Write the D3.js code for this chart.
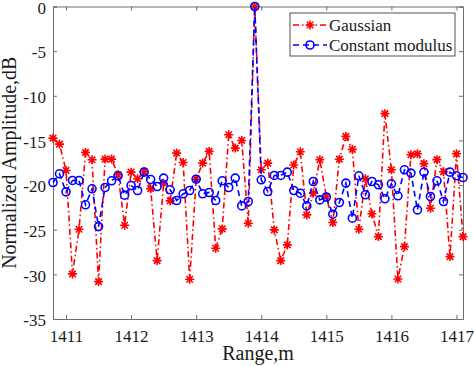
<!DOCTYPE html>
<head>
  <style>
    body {
      margin: 0;
      background: #ffffff;
    }
    text {
      font-family: "Liberation Serif", "Times New Roman", serif;
      fill: #1a1a1a;
    }
  </style>
  <script src="https://d3js.org/d3.v7.min.js"></script>
  <title></title>
</head>
<body>
<div class="home"></div>
</body>
<script>
    // range samples (m)
    const range = [
        1410.8, 1410.9, 1411.0, 1411.1, 1411.2, 1411.3, 1411.4, 1411.5, 1411.6, 1411.7,
        1411.8, 1411.9, 1412.0, 1412.1, 1412.2, 1412.3, 1412.4, 1412.5, 1412.6, 1412.7,
        1412.8, 1412.9, 1413.0, 1413.1, 1413.2, 1413.3, 1413.4, 1413.5, 1413.6, 1413.7,
        1413.8, 1413.9, 1414.0, 1414.1, 1414.2, 1414.3, 1414.4, 1414.5, 1414.6, 1414.7,
        1414.8, 1414.9, 1415.0, 1415.1, 1415.2, 1415.3, 1415.4, 1415.5, 1415.6, 1415.7,
        1415.8, 1415.9, 1416.0, 1416.1, 1416.2, 1416.3, 1416.4, 1416.5, 1416.6, 1416.7,
        1416.8, 1416.9, 1417.0, 1417.1
    ];

    const gaussian = [
        -14.74, -15.41, -18.36, -29.95, -24.95, -16.34, -17.17, -30.81, -17.09, -17.09,
        -18.85, -24.5, -18.55, -19.3, -18.48, -20.4, -28.46, -19.8, -21.77, -16.42,
        -17.47, -30.55, -19.34, -17.54, -16.23, -27.08, -24.91, -14.36, -15.86, -15.0,
        -24.27, 0, -18.29, -17.54, -25.02, -28.46, -26.7, -17.75, -16.27, -23.34,
        -20.9, -17.17, -21.28, -24.2, -17.1, -14.55, -16.0, -24.95, -19.3, -23.22,
        -25.77, -12.0, -18.29, -30.52, -26.89, -16.6, -16.5, -17.6, -22.6, -17.15,
        -18.5, -28.01, -16.5, -25.77
    ];

    const constantModulus = [
        -19.71, -18.74, -20.76, -19.48, -19.48, -22.21, -20.42, -24.65, -20.27, -19.52,
        -18.96, -21.13, -20.05, -20.61, -18.55, -19.37, -20.16, -19.22, -20.53, -21.73,
        -20.98, -20.61, -19.34, -20.98, -20.83, -21.73, -19.52, -20.27, -19.22, -22.33,
        -21.84, 0, -19.41, -20.72, -18.92, -18.92, -18.55, -20.61, -20.91, -22.33,
        -19.6, -21.66, -21.35, -23.26, -21.95, -19.78, -23.71, -18.96, -21.09, -19.6,
        -19.97, -21.54, -19.86, -21.2, -18.29, -18.66, -22.78, -18.55, -21.28, -19.52,
        -21.84, -18.55, -18.96, -19.15
    ];

    const xTicks = [1411, 1412, 1413, 1414, 1415, 1416, 1417];
    const yTicks = [0, -5, -10, -15, -20, -25, -30, -35];
    const seriesNames = ["Gaussian", "Constant modulus"];

    const width = 474;
    const height = 366;
    const margin = {top: 6.5, right: 11, bottom: 47, left: 53};
    const innerW = width - margin.left - margin.right;
    const innerH = height - margin.top - margin.bottom;

    const svg = d3.select(".home").append("svg")
        .attr("width", width)
        .attr("height", height);

    const x = d3.scaleLinear().domain([1410.8, 1417.1]).range([0, innerW]);
    const y = d3.scaleLinear().domain([-35, 0]).range([innerH, 0]);

    const g = svg.append("g")
        .attr("transform", `translate(${margin.left},${margin.top})`);

    const axisColor = "#6e6e6e";
    const tickLen = 4;

    // bottom / left axes with labels, ticks pointing inwards
    const xAxis = g.append("g")
        .attr("transform", `translate(0,${innerH})`)
        .call(d3.axisBottom(x).tickValues(xTicks).tickSize(-tickLen).tickPadding(8).tickFormat(d3.format("d")));
    const yAxis = g.append("g")
        .call(d3.axisLeft(y).tickValues(yTicks).tickSize(-tickLen).tickPadding(7).tickFormat(d => d));
    // top / right ticks only
    const xTop = g.append("g")
        .call(d3.axisTop(x).tickValues(xTicks).tickSize(-tickLen).tickFormat(""));
    const yRight = g.append("g")
        .attr("transform", `translate(${innerW},0)`)
        .call(d3.axisRight(y).tickValues(yTicks).tickSize(-tickLen).tickFormat(""));

    [xAxis, yAxis, xTop, yRight].forEach(a => {
        a.select(".domain").attr("stroke", axisColor);
        a.selectAll(".tick line").attr("stroke", axisColor);
        a.selectAll(".tick text")
            .style("font-family", '"Liberation Serif", "Times New Roman", serif')
            .style("font-size", "17px")
            .attr("fill", "#1a1a1a");
    });
    xAxis.selectAll(".tick text").attr("dy", "0.9em");
    yAxis.selectAll(".tick text").attr("dy", "0.4em");

    g.append("text")
        .attr("x", innerW / 2)
        .attr("y", innerH + 41)
        .attr("text-anchor", "middle")
        .style("font-size", "20px")
        .text("Range,m");

    g.append("text")
        .attr("transform", `translate(${-37},${innerH / 2}) rotate(-90)`)
        .attr("text-anchor", "middle")
        .style("font-size", "20px")
        .text("Normalized Amplitude,dB");

    const pts = arr => arr.map((v, i) => [range[i], v]);
    const line = d3.line().x(d => x(d[0])).y(d => y(d[1]));

    // asterisk marker: plus + cross
    function star(sel, r) {
        const d = r * 0.72;
        return sel.append("path")
            .attr("d", `M${-r},0L${r},0M0,${-r}L0,${r}M${-d},${-d}L${d},${d}M${-d},${d}L${d},${-d}`);
    }

    // Gaussian
    g.append("path")
        .datum(pts(gaussian))
        .attr("fill", "none")
        .attr("stroke", "#ff0000")
        .attr("stroke-width", 1.6)
        .attr("stroke-dasharray", "6,3,1.5,3")
        .attr("d", line);

    g.append("g").selectAll("g")
        .data(pts(gaussian))
        .enter().append("g")
        .attr("transform", d => `translate(${x(d[0])},${y(d[1])})`)
        .each(function () {
            star(d3.select(this), 4.5)
                .attr("stroke", "#ff0000")
                .attr("stroke-width", 1.6);
        });

    // Constant modulus
    g.append("path")
        .datum(pts(constantModulus))
        .attr("fill", "none")
        .attr("stroke", "#0000ff")
        .attr("stroke-width", 1.6)
        .attr("stroke-dasharray", "6,4")
        .attr("d", line);

    g.append("g").selectAll("circle")
        .data(pts(constantModulus))
        .enter().append("circle")
        .attr("cx", d => x(d[0]))
        .attr("cy", d => y(d[1]))
        .attr("r", 4)
        .attr("fill", "none")
        .attr("stroke", "#0000ff")
        .attr("stroke-width", 1.6);

    // legend
    const legend = svg.append("g").attr("transform", "translate(290,13)");
    legend.append("rect")
        .attr("width", 165)
        .attr("height", 43)
        .attr("fill", "#ffffff")
        .attr("stroke", "#262626")
        .attr("stroke-width", 0.8);

    const rows = legend.selectAll(".row")
        .data(seriesNames)
        .enter().append("g")
        .attr("class", "row")
        .attr("transform", (d, i) => `translate(0,${12 + i * 20})`);

    rows.append("line")
        .attr("x1", 3).attr("x2", 37)
        .attr("stroke", (d, i) => i === 0 ? "#ff0000" : "#0000ff")
        .attr("stroke-width", 1.6)
        .attr("stroke-dasharray", (d, i) => i === 0 ? "6,3,1.5,3" : "6,4");

    rows.each(function (d, i) {
        const r = d3.select(this);
        if (i === 0) {
            star(r.append("g").attr("transform", "translate(20,0)"), 4.5)
                .attr("stroke", "#ff0000").attr("stroke-width", 1.6);
        } else {
            r.append("circle").attr("cx", 20).attr("r", 4)
                .attr("fill", "none").attr("stroke", "#0000ff").attr("stroke-width", 1.6);
        }
    });

    rows.append("text")
        .attr("x", 39)
        .attr("dy", "0.35em")
        .style("font-size", "17px")
        .text(d => d);
</script>
